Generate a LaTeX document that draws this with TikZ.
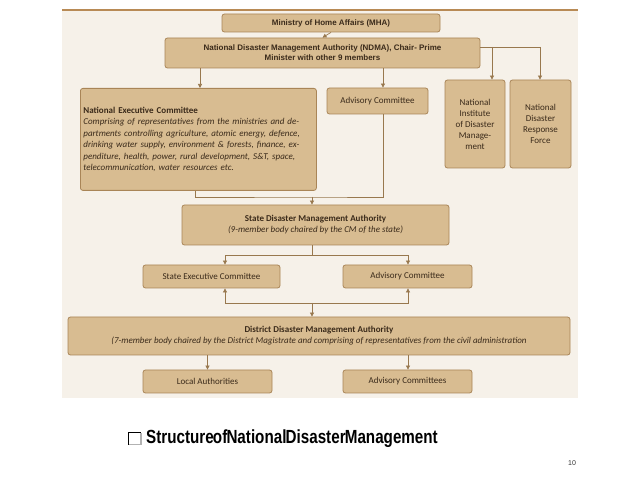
\documentclass[tikz,border=0pt]{standalone}
\usepackage{fontspec}
\setmainfont{Carlito}
\newfontfamily\arialf{Liberation Sans}
\usetikzlibrary{arrows.meta}
\definecolor{panel}{HTML}{F6F1E9}
\definecolor{boxf}{HTML}{D8BC91}
\definecolor{boxd}{HTML}{A98557}
\definecolor{txt}{HTML}{3A2A1A}
\definecolor{topline}{HTML}{B88A55}
\begin{document}
\begin{tikzpicture}[x=1pt,y=-1pt,
 bx/.style={draw=boxd,fill=boxf,rounded corners=2.5pt,line width=0.8pt,inner sep=1pt,text=txt,align=center,font=\fontsize{9}{10}\selectfont},
 ln/.style={draw=boxd!90!black,line width=0.7pt},
 ar/.style={ln,-{Triangle[width=4pt,length=4pt]}}]
\useasboundingbox (0,0) rectangle (638,478);
\fill[white] (0,0) rectangle (638,478);
\fill[panel] (62,11) rectangle (578,398);
\draw[topline,line width=2pt] (62,10) -- (578,10);
% nodes
\node[bx,minimum width=218,minimum height=18,font=\arialf\bfseries\fontsize{8}{9}\selectfont] (mha) at (331,23) {Ministry of Home Affairs (MHA)};
\node[bx,minimum width=315,minimum height=30,font=\arialf\bfseries\fontsize{8}{10}\selectfont] (ndma) at (322.5,53) {National Disaster Management Authority (NDMA), Chair- Prime\\Minister with other 9 members};
\node[bx,minimum width=236,minimum height=102,align=left,anchor=north west,text width=230,inner sep=3pt,font=\fontsize{9}{11.5}\selectfont] (nec) at (80,88) {\textbf{National Executive Committee}\\\itshape Comprising of representatives from the ministries and departments controlling agriculture, atomic energy, defence, drinking water supply, environment \& forests, finance, expenditure, health, power, rural development, S\&T, space, telecommunication, water resources etc.};
\node[bx,minimum width=101,minimum height=26] (adv) at (377.5,101) {Advisory Committee};
\node[bx,minimum width=60,minimum height=88,font=\fontsize{9}{11}\selectfont] (nidm) at (475,124) {National\\Institute\\of Disaster\\Manage-\\ment};
\node[bx,minimum width=61,minimum height=88,font=\fontsize{9}{11}\selectfont] (ndrf) at (540.5,124) {National\\Disaster\\Response\\Force};
\node[bx,minimum width=267,minimum height=40,font=\fontsize{9}{11}\selectfont] (sdma) at (315.5,225) {\textbf{State Disaster Management Authority}\\\itshape (9-member body chaired by the CM of the state)};
\node[bx,minimum width=137,minimum height=23] (sec) at (211.5,276.5) {State Executive Committee};
\node[bx,minimum width=129,minimum height=23] (adv2) at (407.5,276.5) {Advisory Committee};
\node[bx,minimum width=502,minimum height=38,font=\fontsize{9}{11}\selectfont] (ddma) at (319,336) {\textbf{District Disaster Management Authority}\\\itshape (7-member body chaired by the District Magistrate and comprising of representatives from the civil administration};
\node[bx,minimum width=129,minimum height=23] (loc) at (207.5,381.5) {Local Authorities};
\node[bx,minimum width=129,minimum height=23] (adv3) at (407.5,381.5) {Advisory Committees};
% connectors
\draw[ar] (mha.south) -- (ndma.north);
\draw[ar] (ndma.south -| 200,0) -- (nec.north -| 200,0);
\draw[ar] (ndma.south -| 383,0) -- (adv.north -| 383,0);
\coordinate (r1) at (540,47);
\coordinate (r2) at (492,47);
\draw[ln] (ndma.east |- r1) -- (r1);
\draw[ar] (r1) -- (ndrf.north -| r1);
\draw[ar] (r2) -- (nidm.north -| r2);
\coordinate (j1) at (312,197);
\draw[ln] (nec.south -| 195,0) |- (j1) -| (adv.south -| 383,0);
\draw[ar] (j1) -- (sdma.north -| j1);
\coordinate (j2) at (312,255);
\draw[ln] (sdma.south -| j2) -- (j2);
\draw[ar] (j2) -| (sec.north -| 225,0);
\draw[ar] (j2) -| (adv2.north -| 408,0);
\coordinate (j3) at (312,303);
\draw[ar] (j3) -| (sec.south -| 225,0);
\draw[ar] (j3) -| (adv2.south -| 408,0);
\draw[ar] (j3) -- (ddma.north -| j3);
\draw[ar] (ddma.south -| loc.north) -- (loc.north);
\draw[ar] (ddma.south -| 408,0) -- (adv3.north -| 408,0);
% title
\draw[line width=0.8pt,black] (128,432) rectangle (140,444);
\fill[gray!60] (140,433) rectangle (141.5,445.5);
\fill[gray!60] (129,444) rectangle (141.5,445.5);
\node[anchor=west,inner sep=0,text=black,font=\arialf\bfseries\fontsize{19}{20}\selectfont] (title) at (146,439) {\scalebox{0.8}[1]{Structure\kern-1ptof\kern-1ptNational\kern-1ptDisaster\kern-1ptManagement}};
\node[font=\arialf\fontsize{7}{8}\selectfont,text=black!80] (pg) at (572,463) {10};
\end{tikzpicture}
\end{document}
